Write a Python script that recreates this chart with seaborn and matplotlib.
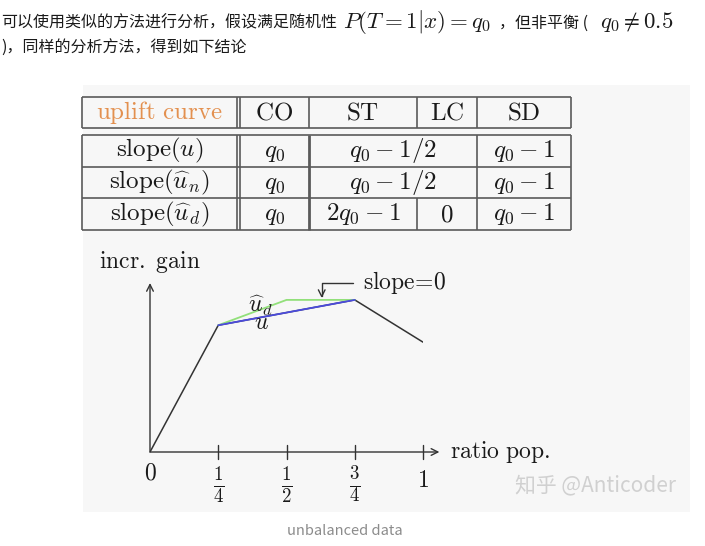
import matplotlib
matplotlib.use("Agg")
import matplotlib.pyplot as plt
import pandas as pd
import seaborn as sns

sns.set_theme(style="white")
plt.rcParams["font.family"] = ["Noto Sans CJK SC", "DejaVu Sans"]
plt.rcParams["mathtext.fontset"] = "cm"

# uplift curve (incr. gain vs ratio pop.)
ratio_pop = [0.0, 0.25, 0.75, 1.0]
gain_u = [0.0, 0.75, 0.90, 0.65]
ratio_ud = [0.25, 0.5, 0.75]
gain_ud = [0.75, 0.90, 0.90]
xtick_pos = [0.25, 0.5, 0.75, 1.0]
xtick_labels = [r"$\frac{1}{4}$", r"$\frac{1}{2}$", r"$\frac{3}{4}$", r"$1$"]

# slope table
col_headers = [r"$\mathrm{CO}$", r"$\mathrm{ST}$", r"$\mathrm{LC}$", r"$\mathrm{SD}$"]
row_labels = [r"$\mathrm{slope}(u)$", r"$\mathrm{slope}(\widehat{u}_n)$",
              r"$\mathrm{slope}(\widehat{u}_d)$"]
slope_co = [r"$q_0$", r"$q_0$", r"$q_0$"]
slope_st = [r"$q_0-1/2$", r"$q_0-1/2$", r"$2q_0-1$"]
slope_lc = [None, None, r"$0$"]
slope_sd = [r"$q_0-1$", r"$q_0-1$", r"$q_0-1$"]

W, H = 705, 546
fig = plt.figure(figsize=(W / 100, H / 100), dpi=100)
fig.patch.set_facecolor("white")

# page layer in pixel coordinates
bg = fig.add_axes([0, 0, 1, 1])
bg.set_xlim(0, W)
bg.set_ylim(H, 0)
bg.axis("off")

bg.add_patch(plt.Rectangle((83, 85), 607, 427, facecolor="#f7f7f7", edgecolor="none"))

txt_col = "#1a1a1a"
bg.text(1, 23, "可以使用类似的方法进行分析，假设满足随机性", fontsize=11.5,
        color=txt_col, va="center", ha="left")
bg.text(343, 22, r"$P(T=1|x)=q_0$", fontsize=16.5, color=txt_col, va="center", ha="left")
bg.text(499, 23, "，但非平衡 (", fontsize=11.5, color=txt_col, va="center", ha="left")
bg.text(600, 22, r"$q_0\neq0.5$", fontsize=16.5, color=txt_col, va="center", ha="left")
bg.text(1, 48, ")，同样的分析方法，得到如下结论", fontsize=11.5, color=txt_col,
        va="center", ha="left")

bg.text(345, 531, "unbalanced data", fontsize=10.5, color="#8c8c8c", ha="center", va="center")
bg.text(515, 485, "知乎 @Anticoder", fontsize=15, color="#d0d0d0", ha="left", va="center")

# table grid
lc = "#5a5a5a"
lw = 1.2
x0, xd1, xd2, xco, xlc, xsd, x1 = 82, 237, 240, 309, 417, 477, 571
hy0, hy1 = 97, 128
by0, by1 = 135, 230
rows_y = [135, 166.7, 198.3, 230]
for yy in [hy0, hy1, by0, by1] + rows_y[1:3]:
    bg.hlines(yy, x0, x1, color=lc, lw=lw)
for xx in [x0, xd1, xd2, xco, xlc, xsd, x1]:
    bg.vlines(xx, hy0, hy1, color=lc, lw=lw)
for xx in [x0, xd1, xd2, xsd, x1]:
    bg.vlines(xx, by0, by1, color=lc, lw=lw)
bg.vlines(xco, by0, by1, color=lc, lw=2.0)
bg.vlines(xlc, rows_y[2], rows_y[3], color=lc, lw=lw)

fs_tab = 18
hy = (hy0 + hy1) / 2
bg.text((x0 + xd1) / 2, hy, r"$\mathrm{uplift\ curve}$", fontsize=fs_tab,
        color="#e3904f", ha="center", va="center")
for cx, lab in zip([(xd2 + xco) / 2, (xco + xlc) / 2, (xlc + xsd) / 2, (xsd + x1) / 2], col_headers):
    bg.text(cx, hy, lab, fontsize=fs_tab, color=txt_col, ha="center", va="center")

for i in range(3):
    cy = (rows_y[i] + rows_y[i + 1]) / 2
    bg.text((x0 + xd1) / 2, cy, row_labels[i], fontsize=fs_tab, color=txt_col, ha="center", va="center")
    bg.text((xd2 + xco) / 2, cy, slope_co[i], fontsize=fs_tab, color=txt_col, ha="center", va="center")
    if slope_lc[i] is None:
        bg.text((xco + xsd) / 2, cy, slope_st[i], fontsize=fs_tab, color=txt_col, ha="center", va="center")
    else:
        bg.text((xco + xlc) / 2, cy, slope_st[i], fontsize=fs_tab, color=txt_col, ha="center", va="center")
        bg.text((xlc + xsd) / 2, cy, slope_lc[i], fontsize=fs_tab, color=txt_col, ha="center", va="center")
    bg.text((xsd + x1) / 2, cy, slope_sd[i], fontsize=fs_tab, color=txt_col, ha="center", va="center")

# chart
ax = fig.add_axes([150 / W, 94 / H, 273 / W, 169 / H])
ax.set_xlim(0, 1)
ax.set_ylim(0, 1)
ax.axis("off")
ax.patch.set_alpha(0)

df_u = pd.DataFrame({"ratio": ratio_pop, "gain": gain_u})
df_ud = pd.DataFrame({"ratio": ratio_ud, "gain": gain_ud})
sns.lineplot(data=df_u, x="ratio", y="gain", sort=False, color="#333333", lw=1.1, ax=ax)
sns.lineplot(data=df_ud, x="ratio", y="gain", sort=False, color="#92e07a", lw=1.3, ax=ax)
sns.lineplot(data=df_u.iloc[1:3], x="ratio", y="gain", sort=False, color="#4b4bdc", lw=1.3, ax=ax)

ax_kw = dict(arrowstyle="->", color="#333333", lw=1.0, shrinkA=0, shrinkB=0)
ax.annotate("", xy=(1.06, 0), xytext=(0, 0), arrowprops=ax_kw, annotation_clip=False)
ax.annotate("", xy=(0, 1.0), xytext=(0, 0), arrowprops=ax_kw, annotation_clip=False)
for xp in xtick_pos:
    ax.plot([xp, xp], [-0.04, 0.04], color="#333333", lw=1.0, clip_on=False)

fs_ch = 17
for xp, lab in zip(xtick_pos, xtick_labels):
    ty = -0.166 if lab == r"$1$" else -0.2
    ax.text(xp, ty, lab, fontsize=fs_ch if lab == r"$1$" else 19.5, color=txt_col, ha="center", va="center")
ax.text(0, -0.124, r"$0$", fontsize=fs_ch, color=txt_col, ha="center", va="center")
ax.text(0, 1.124, r"$\mathrm{incr.\ gain}$", fontsize=fs_ch, color=txt_col, ha="center", va="center")
ax.text(1.099, 0.0, r"$\mathrm{ratio\ pop.}$", fontsize=fs_ch, color=txt_col, ha="left", va="center")
ax.text(0.78, 1.0, r"$\mathrm{slope}\!=\!0$", fontsize=fs_ch, color=txt_col, ha="left", va="center")
ax.text(0.405, 0.865, r"$\widehat{u}_d$", fontsize=fs_ch, color=txt_col, ha="center", va="center")
ax.text(0.41, 0.765, r"$u$", fontsize=fs_ch, color=txt_col, ha="center", va="center")
ax.annotate("", xy=(0.629, 0.911), xytext=(0.744, 1.0), annotation_clip=False,
            arrowprops=dict(arrowstyle="->", color="#333333", lw=1.0, shrinkA=0, shrinkB=0,
                            connectionstyle="angle,angleA=0,angleB=90,rad=0"))

fig.savefig("out.png", dpi=100)
